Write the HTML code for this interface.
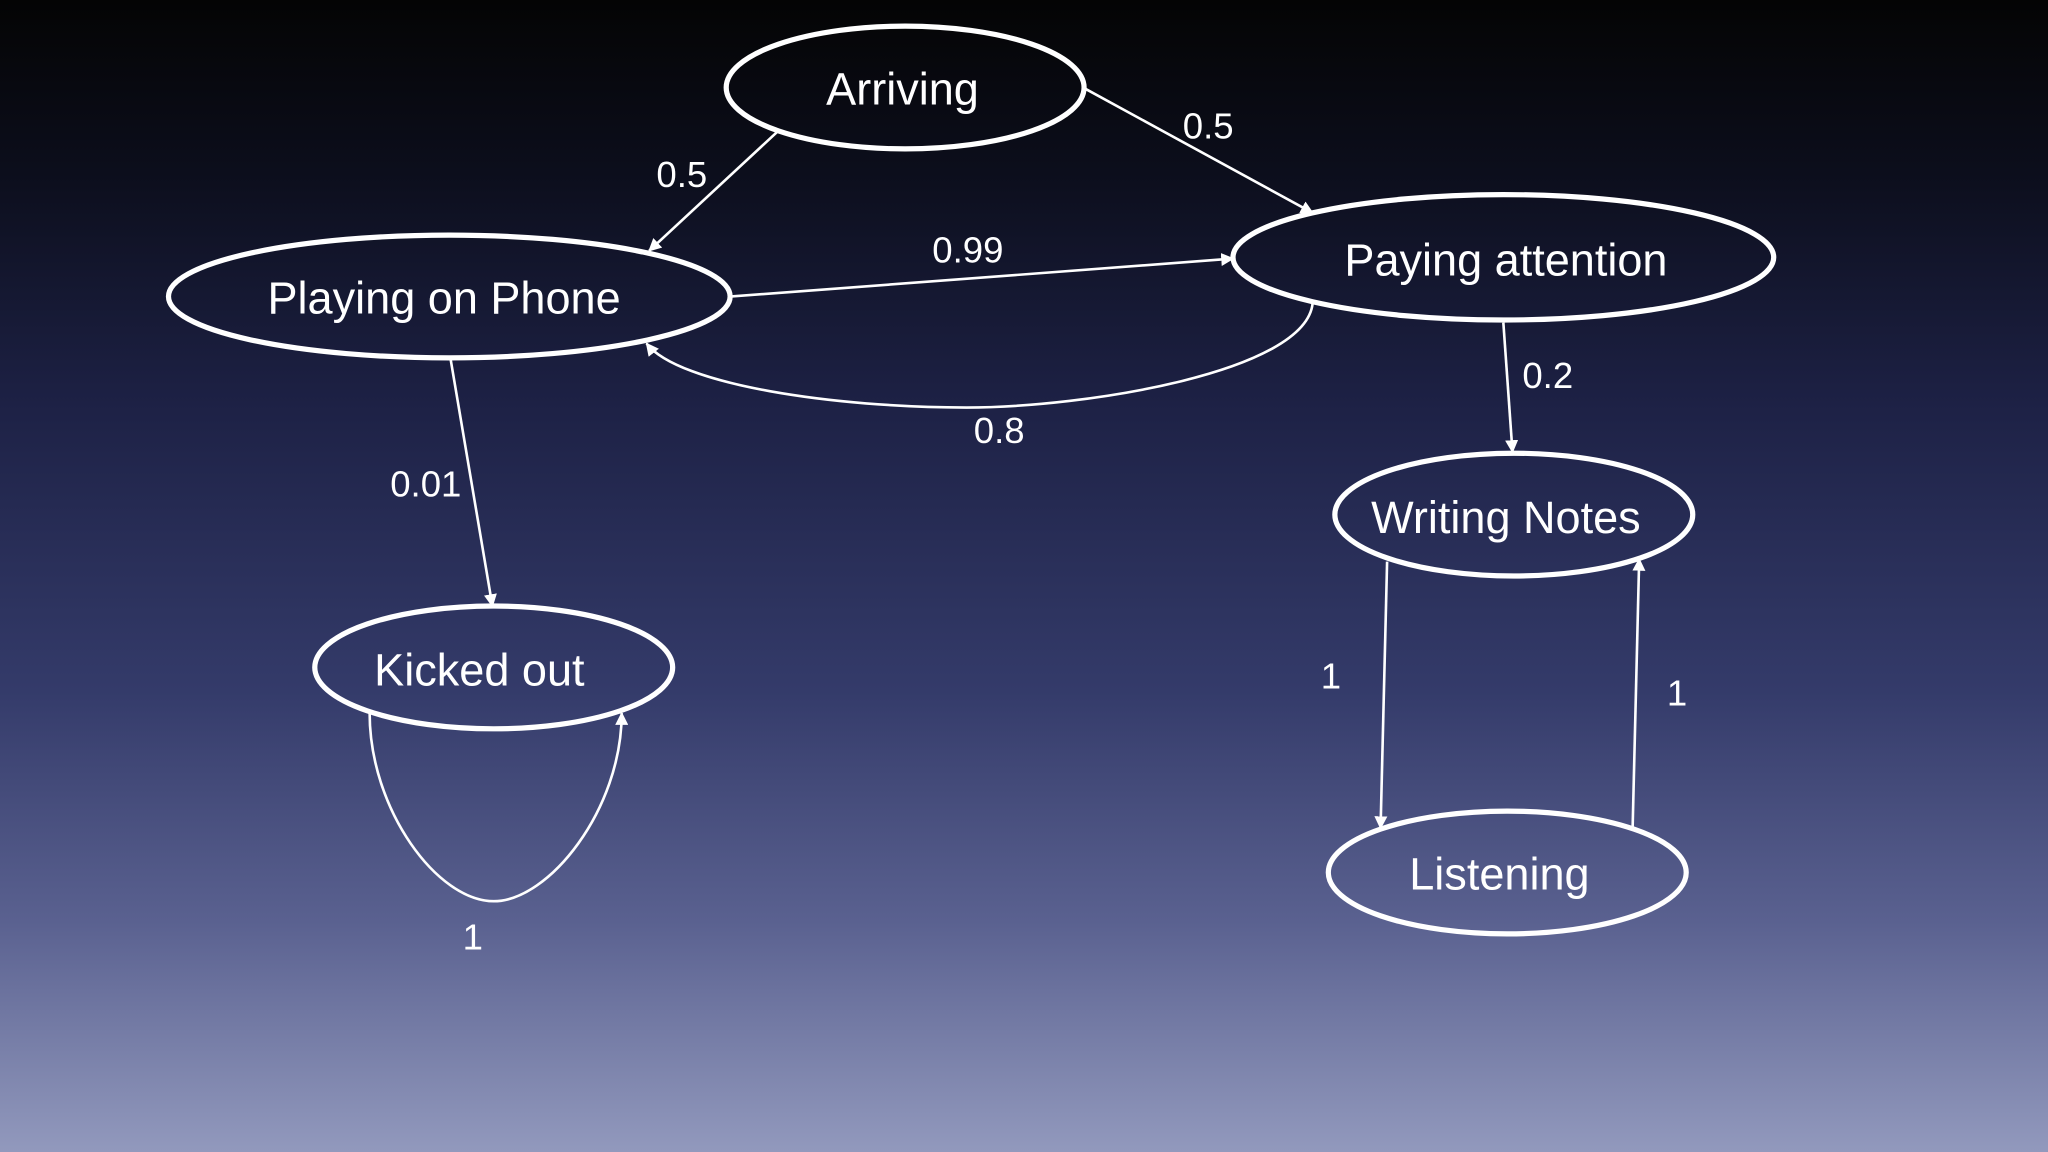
<!DOCTYPE html>
<html><head><meta charset="utf-8"><style>
html,body{margin:0;padding:0;width:2048px;height:1152px;overflow:hidden}
svg{display:block}
text{font-family:"Liberation Sans",Arial,sans-serif;fill:#fff}
</style></head><body>
<svg width="2048" height="1152" viewBox="0 0 1568 882" xmlns="http://www.w3.org/2000/svg">
<defs>
<linearGradient id="bg" x1="0" y1="0" x2="0" y2="1">
<stop offset="0" stop-color="#040404"/>
<stop offset="0.15" stop-color="#0c0e1c"/>
<stop offset="0.35" stop-color="#1d2145"/>
<stop offset="0.6" stop-color="#343b6a"/>
<stop offset="0.8" stop-color="#5a6190"/>
<stop offset="1" stop-color="#9299bd"/>
</linearGradient>
<marker id="a" viewBox="0 0 10 10" refX="9" refY="5" markerWidth="10" markerHeight="10" markerUnits="userSpaceOnUse" orient="auto">
<path d="M0,0 L10,5 L0,10 z" fill="#fff"/>
</marker>
</defs>
<rect width="1568" height="882" fill="url(#bg)"/>
<g fill="none" stroke="#fff" stroke-width="4">
<ellipse cx="693" cy="67" rx="137" ry="47"/>
<ellipse cx="344" cy="227" rx="215" ry="47"/>
<ellipse cx="1151" cy="197" rx="207" ry="48"/>
<ellipse cx="1159" cy="394" rx="137" ry="47"/>
<ellipse cx="378" cy="511" rx="137" ry="47"/>
<ellipse cx="1154" cy="668" rx="137" ry="47"/>
</g>
<g fill="none" stroke="#fff" stroke-width="2" marker-end="url(#a)">
<line x1="595" y1="101" x2="497" y2="192"/>
<line x1="831" y1="68" x2="1005" y2="163"/>
<line x1="560" y1="227" x2="944" y2="198"/>
<path d="M1005,232 C1000,285 830,312 740,312 C640,312 520,295 495,263"/>
<line x1="1151" y1="247" x2="1158" y2="346"/>
<line x1="345" y1="275" x2="377" y2="464"/>
<path d="M283,546 C283,620 335,690 378,690 C420,690 476,620 476,546"/>
<line x1="1062" y1="430" x2="1057" y2="634"/>
<line x1="1250" y1="633" x2="1255" y2="428"/>
</g>
<g font-size="34.5" text-anchor="middle">
<text x="691" y="80">Arriving</text>
<text x="340" y="240">Playing on Phone</text>
<text x="1153" y="211">Paying attention</text>
<text x="1153" y="408">Writing Notes</text>
<text x="367" y="525">Kicked out</text>
<text x="1148" y="681">Listening</text>
</g>
<g font-size="28" text-anchor="middle">
<text x="522" y="143">0.5</text>
<text x="925" y="106">0.5</text>
<text x="741" y="201">0.99</text>
<text x="765" y="339">0.8</text>
<text x="1185" y="297">0.2</text>
<text x="326" y="380">0.01</text>
<text x="362" y="727">1</text>
<text x="1019" y="527">1</text>
<text x="1284" y="540">1</text>
</g>
</svg>
</body></html>
